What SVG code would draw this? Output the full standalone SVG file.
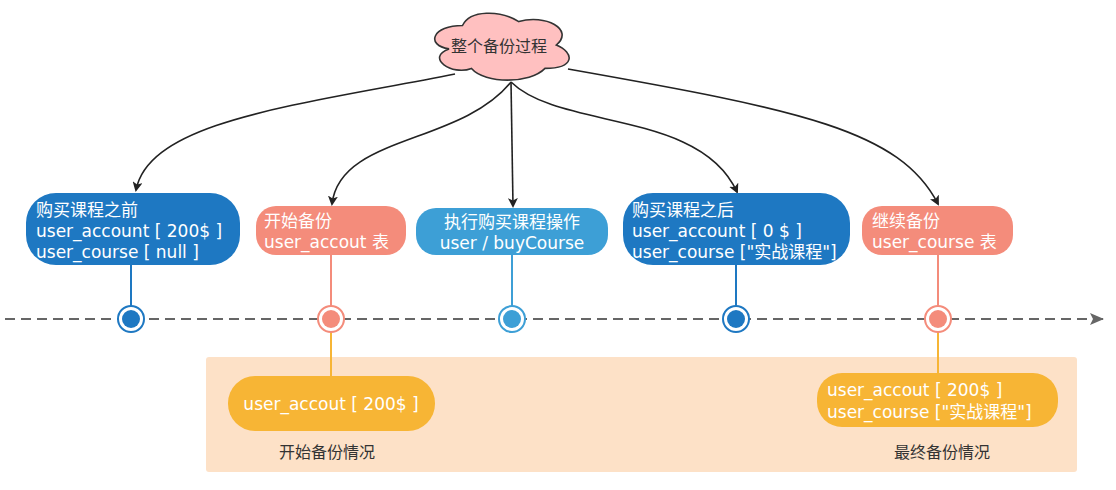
<svg xmlns="http://www.w3.org/2000/svg" width="1116" height="490" viewBox="0 0 1116 490">
<defs>
<marker id="ah" markerWidth="10" markerHeight="10" refX="8" refY="5" orient="auto" markerUnits="userSpaceOnUse"><path d="M0,0 L10,5 L0,10 L2.5,5 Z" fill="#222"/></marker>
<marker id="ahg" markerWidth="14" markerHeight="12" refX="13" refY="6" orient="auto" markerUnits="userSpaceOnUse"><path d="M0,0 L14,6 L0,12 L3,6 Z" fill="#666"/></marker>
<style>
.t{font-family:"DejaVu Sans","Noto Sans CJK SC",sans-serif;font-size:17px;fill:#fff}
.d{font-family:"DejaVu Sans","Noto Sans CJK SC",sans-serif;font-size:16px;fill:#333}
.c{fill:none;stroke:#222;stroke-width:1.6;marker-end:url(#ah)}
</style>
</defs>
<rect x="206" y="357" width="871" height="115" rx="3" fill="#fde1c7"/>
<line x1="5" y1="319" x2="1103" y2="319" stroke="#666" stroke-width="2" stroke-dasharray="10,6" marker-end="url(#ahg)"/>
<g id="connectors">
<path class="c" d="M455 74 C300 105,150 120,136 190"/>
<path class="c" d="M511 82 C460 145,340 135,332 204"/>
<path class="c" d="M511 82 L513 206"/>
<path class="c" d="M511 82 C560 130,700 110,737 192"/>
<path class="c" d="M568 69 C800 110,900 130,938 204"/>
<line x1="131" y1="265" x2="131" y2="306" stroke="#1e78c2" stroke-width="2"/>
<line x1="331" y1="255" x2="331" y2="306" stroke="#f48c7b" stroke-width="2"/>
<line x1="512" y1="255" x2="512" y2="306" stroke="#3d9fd6" stroke-width="2"/>
<line x1="736" y1="265" x2="736" y2="306" stroke="#1e78c2" stroke-width="2"/>
<line x1="938" y1="255" x2="938" y2="306" stroke="#f48c7b" stroke-width="2"/>
<line x1="331" y1="332" x2="331" y2="377" stroke="#f7b535" stroke-width="2"/>
<line x1="938" y1="332" x2="938" y2="373" stroke="#f7b535" stroke-width="2"/>
</g>
<g id="cloud">
<path d="M462.5 25.5 C432.5 25.5 425 45 449 48.9 C425 57.5 452 76.2 471.5 68.4 C485 84 530 84 545 68.4 C575 68.4 575 52.8 556.3 45 C575 29.4 545 13.8 518.8 21.6 C500 9.9 470 9.9 462.5 25.5 Z" fill="#ffc0c0" stroke="#333" stroke-width="1.6"/>
<text class="d" x="499" y="52" text-anchor="middle">整个备份过程</text>
</g>
<g id="n1"><rect x="26" y="193" width="214" height="72" rx="30" fill="#1e78c2"/>
<text class="t" x="36" y="216">购买课程之前</text><text class="t" x="36" y="237">user_account [ 200$ ]</text><text class="t" x="36" y="258">user_course [ null ]</text></g>
<g id="n2"><rect x="256" y="206" width="150" height="49" rx="20" fill="#f48c7b"/>
<text class="t" x="264" y="227">开始备份</text><text class="t" x="264" y="248">user_accout 表</text></g>
<g id="n3"><rect x="416" y="208" width="192" height="47" rx="20" fill="#3d9fd6"/>
<text class="t" x="512" y="228" text-anchor="middle">执行购买课程操作</text><text class="t" x="512" y="249" text-anchor="middle">user / buyCourse</text></g>
<g id="n4"><rect x="623" y="193" width="227" height="72" rx="30" fill="#1e78c2"/>
<text class="t" x="632" y="216">购买课程之后</text><text class="t" x="632" y="237">user_account [ 0 $ ]</text><text class="t" x="632" y="258">user_course ["实战课程"]</text></g>
<g id="n5"><rect x="862" y="206" width="151" height="49" rx="20" fill="#f48c7b"/>
<text class="t" x="872" y="227">继续备份</text><text class="t" x="872" y="248">user_course 表</text></g>
<g id="p1"><circle cx="131" cy="319" r="13" fill="#fff" stroke="#1e78c2" stroke-width="2"/><circle cx="131" cy="319" r="9" fill="#1e78c2"/></g>
<g id="p2"><circle cx="331" cy="319" r="13" fill="#fff" stroke="#f48c7b" stroke-width="2"/><circle cx="331" cy="319" r="9" fill="#f48c7b"/></g>
<g id="p3"><circle cx="512" cy="319" r="13" fill="#fff" stroke="#3d9fd6" stroke-width="2"/><circle cx="512" cy="319" r="9" fill="#3d9fd6"/></g>
<g id="p4"><circle cx="736" cy="319" r="13" fill="#fff" stroke="#1e78c2" stroke-width="2"/><circle cx="736" cy="319" r="9" fill="#1e78c2"/></g>
<g id="p5"><circle cx="938" cy="319" r="13" fill="#fff" stroke="#f48c7b" stroke-width="2"/><circle cx="938" cy="319" r="9" fill="#f48c7b"/></g>
<g id="b1"><rect x="228" y="376" width="207" height="55" rx="27" fill="#f7b535"/>
<text class="t" x="331" y="410" text-anchor="middle">user_accout [ 200$ ]</text></g>
<g id="b2"><rect x="817" y="373" width="241" height="54" rx="25" fill="#f7b535"/>
<text class="t" x="827" y="396">user_accout [ 200$ ]</text><text class="t" x="827" y="418">user_course ["实战课程"]</text></g>
<text class="d" x="327" y="458" text-anchor="middle">开始备份情况</text>
<text class="d" x="942" y="458" text-anchor="middle">最终备份情况</text>
</svg>
